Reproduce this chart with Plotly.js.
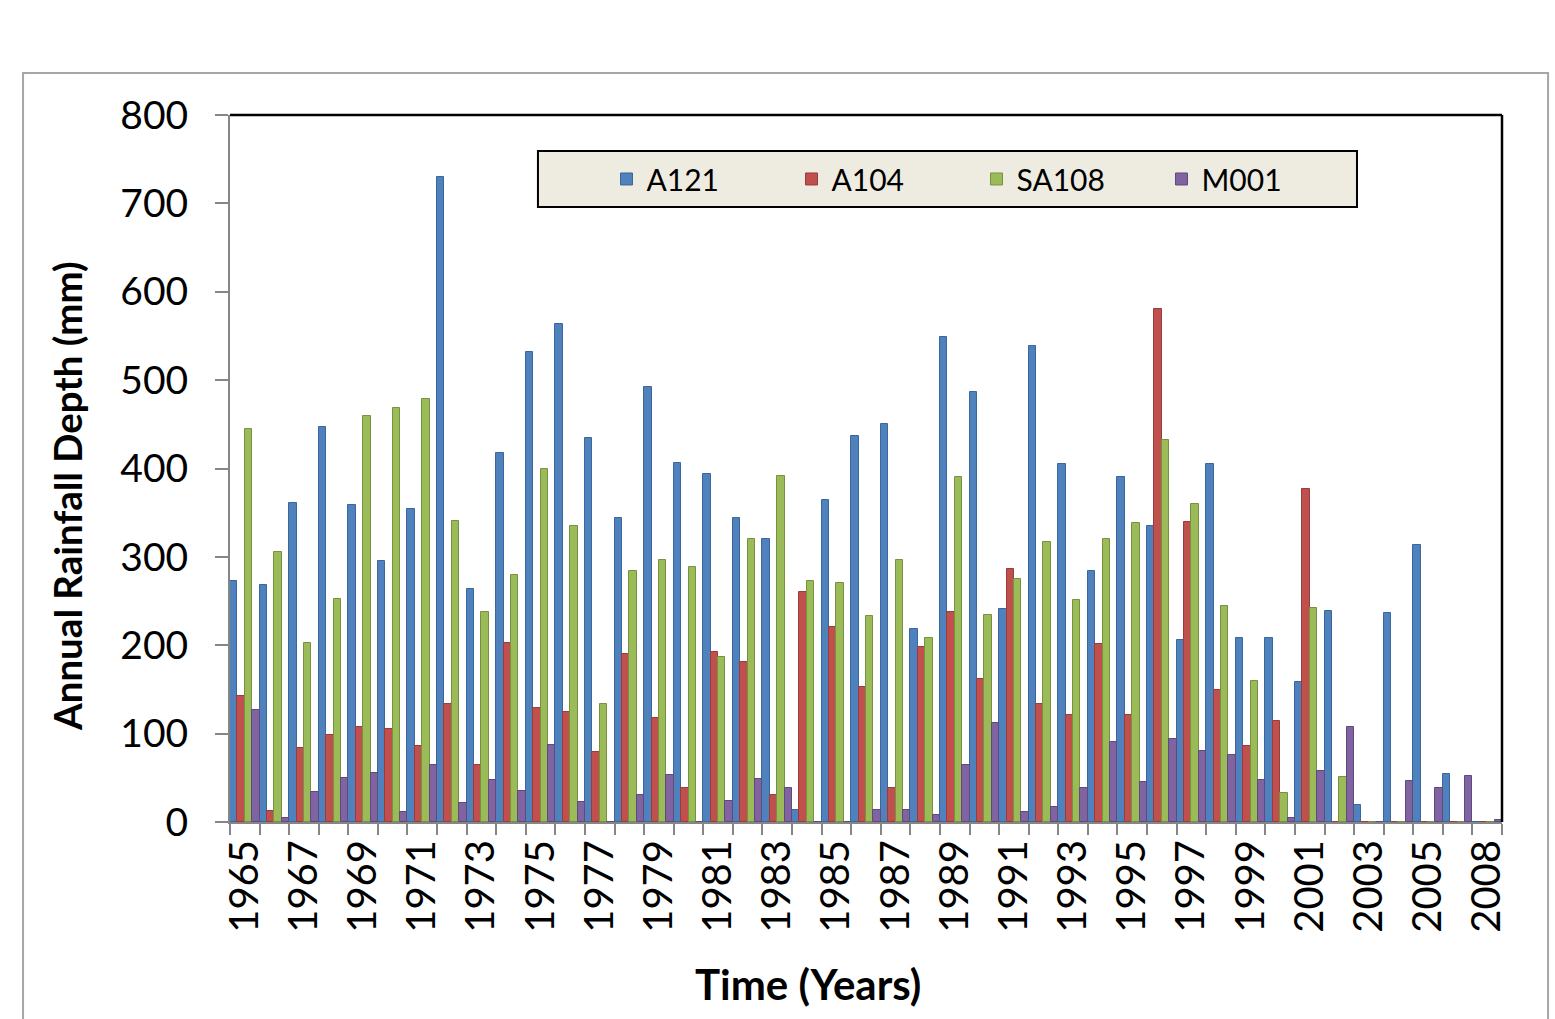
<!DOCTYPE html>
<html>
<head>
<meta charset="utf-8">
<script src="https://cdn.plot.ly/plotly-3.0.1.min.js"></script>
<style>
  html, body { margin: 0; padding: 0; background: #ffffff; }
  #chart { width: 1555px; height: 1019px; }
</style>
</head>
<body>
<div id="chart"></div>
<script>
// Annual rainfall depth (mm) at four stations, 1965-2008 (no record for 2007)
const years = ['1965','1966','1967','1968','1969','1970','1971','1972','1973','1974',
               '1975','1976','1977','1978','1979','1980','1981','1982','1983','1984',
               '1985','1986','1987','1988','1989','1990','1991','1992','1993','1994',
               '1995','1996','1997','1998','1999','2000','2001','2002','2003','2004',
               '2005','2006','2008'];

const a121 = [273, 268, 361, 447, 359, 295, 354, 730, 264, 417,
              532, 564, 434, 344, 492, 406, 394, 344, 320, 14,
              364, 437, 450, 218, 549, 487, 241, 539, 405, 284,
              390, 335, 206, 405, 208, 208, 158, 239, 19, 236,
              314, 54, 0];

const a104 = [143, 13, 84, 99, 108, 105, 86, 134, 65, 203,
              129, 125, 79, 190, 118, 39, 192, 181, 30, 260,
              221, 153, 39, 198, 238, 162, 286, 134, 121, 201,
              121, 580, 340, 149, 86, 114, 377, 0, 0, 0,
              0, 0, 0];

const sa108 = [445, 306, 203, 252, 459, 469, 479, 341, 238, 280,
               399, 335, 134, 284, 297, 288, 187, 320, 392, 273,
               270, 233, 296, 208, 390, 234, 275, 317, 251, 320,
               338, 432, 360, 244, 159, 33, 242, 51, 0, 0,
               0, 0, 0];

const m001 = [127, 5, 34, 50, 55, 11, 64, 21, 47, 35,
              87, 23, 0, 30, 53, 0, 24, 49, 39, 0,
              0, 14, 14, 8, 65, 112, 11, 17, 38, 91,
              45, 94, 80, 76, 48, 5, 58, 107, 0, 46,
              38, 52, 2];

// every other year is labelled; ticks sit on every category boundary
const tickText = years.map((y, i) => (i % 2 === 0 ? y : ''));

const FONT = 'Lato, "Open Sans", sans-serif';

function series(name, values, fill, edge) {
  return {
    type: 'bar',
    name: name,
    x: years,
    y: values,
    marker: { color: fill, line: { color: edge, width: 1 } },
    hoverinfo: 'x+y+name'
  };
}

const data = [
  series('A121', a121, '#4F81BD', '#3A679C'),
  series('A104', a104, '#C0504D', '#9A3C3A'),
  series('SA108', sa108, '#9BBB59', '#77923F'),
  series('M001', m001, '#8064A2', '#5F4A7D')
];

const layout = {
  width: 1555,
  height: 1019,
  margin: { l: 230, r: 53, t: 115, b: 197 },
  paper_bgcolor: '#ffffff',
  plot_bgcolor: '#ffffff',
  font: { family: FONT, color: '#000000' },
  barmode: 'group',
  bargap: 0,
  bargroupgap: 0,
  showlegend: true,
  legend: {
    orientation: 'h',
    x: 0.296,
    xanchor: 'left',
    y: 0.9095,
    yanchor: 'middle',
    bgcolor: 'rgba(0,0,0,0)',
    borderwidth: 0,
    font: { family: FONT, size: 30, color: '#000000' },
    entrywidth: 140,
    entrywidthmode: 'pixels'
  },
  xaxis: {
    type: 'category',
    tickmode: 'array',
    tickvals: years,
    ticktext: tickText,
    tickson: 'boundaries',
    tickangle: -90,
    ticks: 'outside',
    ticklen: 11,
    tickwidth: 2,
    tickcolor: '#868686',
    showline: true,
    linecolor: '#868686',
    linewidth: 2,
    showgrid: false,
    zeroline: false,
    tickfont: { family: FONT, size: 40, color: '#000000' }
  },
  yaxis: {
    range: [0, 800],
    dtick: 100,
    ticks: 'outside',
    ticklen: 13,
    tickwidth: 2,
    tickcolor: '#868686',
    showline: true,
    linecolor: '#868686',
    linewidth: 2,
    showgrid: false,
    zeroline: false,
    ticklabelstandoff: 19,
    tickfont: { family: FONT, size: 39, color: '#000000' }
  },
  annotations: [
    { text: 'Time (Years)', xref: 'paper', yref: 'paper',
      x: 0.4544, y: -0.229, xanchor: 'center', yanchor: 'middle', showarrow: false,
      font: { family: FONT, size: 42, color: '#000000', weight: 'bold' } },
    { text: 'Annual Rainfall Depth (mm)', xref: 'paper', yref: 'paper',
      x: -0.1282, y: 0.4610, xanchor: 'center', yanchor: 'middle', showarrow: false,
      textangle: -90,
      font: { family: FONT, size: 38.5, color: '#000000', weight: 'bold' } }
  ],
  shapes: [
    // outer chart frame
    { type: 'rect', xref: 'paper', yref: 'paper',
      x0: -0.1627, x1: 1.0362, y0: -0.40, y1: 1.0594,
      line: { color: '#A6A6A6', width: 2 }, fillcolor: 'rgba(0,0,0,0)', layer: 'below' },
    // top and right edges of the plot box
    { type: 'line', xref: 'paper', yref: 'paper', x0: 0, x1: 1, y0: 1, y1: 1,
      line: { color: '#000000', width: 2.5 } },
    { type: 'line', xref: 'paper', yref: 'paper', x0: 1, x1: 1, y0: 0, y1: 1,
      line: { color: '#000000', width: 2.5 } },
    // legend panel
    { type: 'rect', xref: 'paper', yref: 'paper',
      x0: 0.2421, x1: 0.886, y0: 0.8699, y1: 0.9491,
      fillcolor: '#EEECE1', line: { color: '#000000', width: 2 }, layer: 'above' }
  ]
};

Plotly.newPlot('chart', data, layout, { displayModeBar: false, responsive: false });
</script>
</body>
</html>
